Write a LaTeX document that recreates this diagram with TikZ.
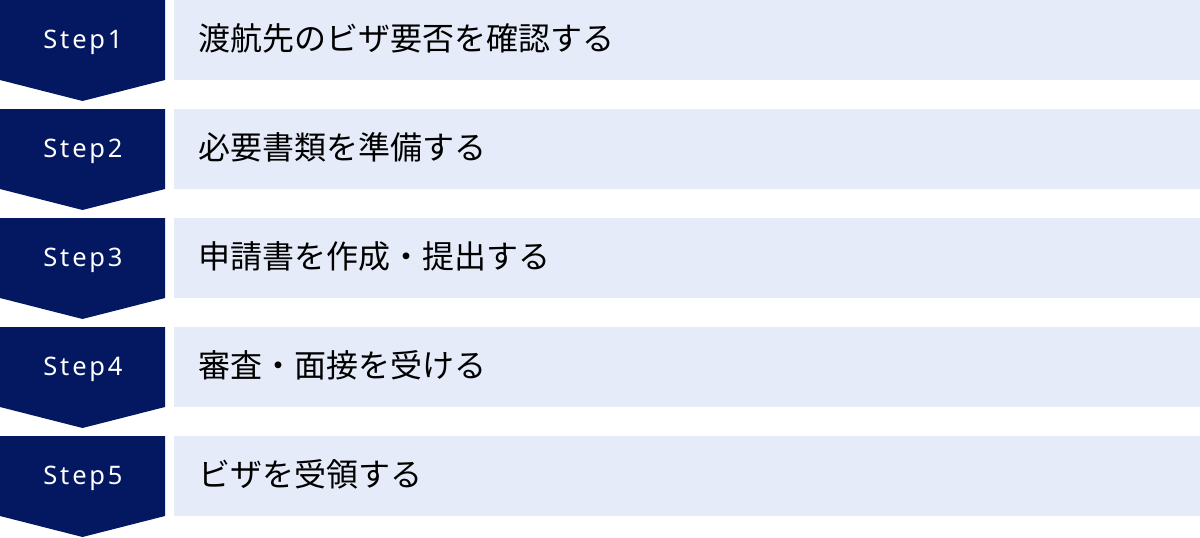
\documentclass[tikz,border=0pt]{standalone}
\usepackage{fontspec}
\setmainfont{Noto Sans CJK JP}
\newfontfamily\stepfont[LetterSpace=11]{Noto Sans}
\definecolor{navy}{HTML}{041862}
\definecolor{lightbox}{HTML}{E5EBF8}
\begin{document}
\begin{tikzpicture}[x=1pt,y=-1pt,
  steplabel/.style={text=white,font=\stepfont\fontsize{25.5}{30}\selectfont,anchor=base,inner sep=0pt},
  steptext/.style={text=black,font=\fontsize{32}{36}\selectfont,anchor=base west,inner sep=0pt},
  chevron/.style={fill=navy,draw=none},
  textbox/.style={fill=lightbox,draw=none}]
\useasboundingbox (0,0) rectangle (1200,538);
\foreach \i/\t in {1/渡航先のビザ要否を確認する,2/必要書類を準備する,3/申請書を作成・提出する,4/審査・面接を受ける,5/ビザを受領する}{
  \pgfmathsetmacro{\top}{(\i-1)*109}
  \fill[chevron] (0,\top) -- (165,\top) -- (165,\top+80) -- (82.5,\top+101) -- (0,\top+80) -- cycle;
  \fill[textbox] (174,\top) rectangle (1200,\top+80);
  \node[steplabel] (s\i) at (83,\top+48.7) {Step\i};
  \node[steptext] (t\i) at (198.5,\top+50.5) {\t};
}
\end{tikzpicture}
\end{document}
